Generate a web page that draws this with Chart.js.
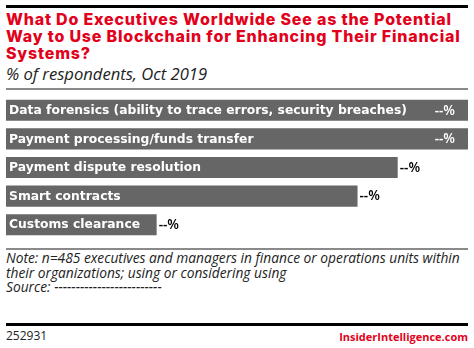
<!DOCTYPE html>
<html>
<head>
<meta charset="utf-8">
<script src="https://cdn.jsdelivr.net/npm/chart.js@4"></script>
<style>
html,body{margin:0;padding:0;background:#fff;}
body{width:474px;height:348px;position:relative;overflow:hidden;font-family:"Open Sans",sans-serif;}
.abs{position:absolute;white-space:nowrap;}
#topline{left:6px;top:5px;width:462px;height:3px;background:#000;}
#title{left:6px;top:11px;color:#e2001a;font-family:"Inter","Open Sans",sans-serif;font-weight:800;font-size:16px;line-height:16.8px;letter-spacing:0.8px;}
#sub{left:6px;top:64px;color:#222;font-style:italic;font-size:16.6px;line-height:19px;}
#subline{left:6px;top:88px;width:462px;height:2px;background:#8a8a8a;}
#chartbox{left:6px;top:96px;width:462px;height:143px;}
#noteline{left:6px;top:248px;width:462px;height:2px;background:#8a8a8a;}
#note{left:6px;top:251px;color:#222;font-style:italic;font-size:13.75px;line-height:14.5px;}
#botline{left:6px;top:323px;width:462px;height:3px;background:#000;}
#id{left:6px;top:329px;color:#222;font-size:12px;line-height:14px;}
#brand{right:6px;top:330px;color:#e2001a;font-weight:700;font-size:11px;line-height:13px;}
</style>
</head>
<body>
<div class="abs" id="topline"></div>
<div class="abs" id="title">What Do Executives Worldwide See as the Potential<br>Way to Use Blockchain for Enhancing Their Financial<br>Systems?</div>
<div class="abs" id="sub">% of respondents, Oct 2019</div>
<div class="abs" id="subline"></div>
<div class="abs" id="chartbox"><canvas id="c"></canvas></div>
<div class="abs" id="noteline"></div>
<div class="abs" id="note">Note: n=485 executives and managers in finance or operations units within<br>their organizations; using or considering using<br>Source: -------------------------</div>
<div class="abs" id="botline"></div>
<div class="abs" id="id">252931</div>
<div class="abs" id="brand">InsiderIntelligence.com</div>
<script>
const categories = [
  "Data forensics (ability to trace errors, security breaches)",
  "Payment processing/funds transfer",
  "Payment dispute resolution",
  "Smart contracts",
  "Customs clearance"
];
const values = [46, 46, 39, 35, 15];
const valueLabels = ["--%", "--%", "--%", "--%", "--%"];

const labelPlugin = {
  id: 'barLabels',
  afterDatasetsDraw(chart) {
    const ctx = chart.ctx;
    const meta = chart.getDatasetMeta(0);
    ctx.save();
    ctx.textBaseline = 'middle';
    ctx.font = 'bold 12.5px "DejaVu Sans", sans-serif';
    let w = ctx.measureText(categories[0]).width;
    const size = 12.5 * 398 / w;
    const catFont = 'bold ' + size.toFixed(2) + 'px "DejaVu Sans", sans-serif';
    meta.data.forEach((bar, i) => {
      const left = bar.base;
      ctx.font = catFont;
      ctx.fillStyle = '#fff';
      ctx.textAlign = 'left';
      ctx.fillText(categories[i], left + 3, bar.y + 0.5);
      ctx.font = '600 13.5px "Open Sans", sans-serif';
      const vw = ctx.measureText(valueLabels[i]).width;
      if (bar.x + vw + 4 > chart.chartArea.right) {
        ctx.fillStyle = '#fff';
        ctx.textAlign = 'right';
        ctx.fillText(valueLabels[i], bar.x - 13, bar.y + 0.5);
      } else {
        ctx.fillStyle = '#000';
        ctx.textAlign = 'left';
        ctx.fillText(valueLabels[i], bar.x + 2, bar.y + 0.5);
      }
    });
    ctx.restore();
  }
};

new Chart(document.getElementById('c'), {
  type: 'bar',
  data: {
    labels: categories,
    datasets: [{
      data: values,
      backgroundColor: '#666666',
      borderWidth: 0,
      barPercentage: 1,
      categoryPercentage: 0.737
    }]
  },
  options: {
    indexAxis: 'y',
    responsive: true,
    maintainAspectRatio: false,
    animation: false,
    layout: { padding: 0 },
    plugins: { legend: { display: false }, tooltip: { enabled: false } },
    scales: {
      x: { display: false, min: 0, max: Math.max(...values) },
      y: { display: false }
    }
  },
  plugins: [labelPlugin]
});
</script>
</body>
</html>
